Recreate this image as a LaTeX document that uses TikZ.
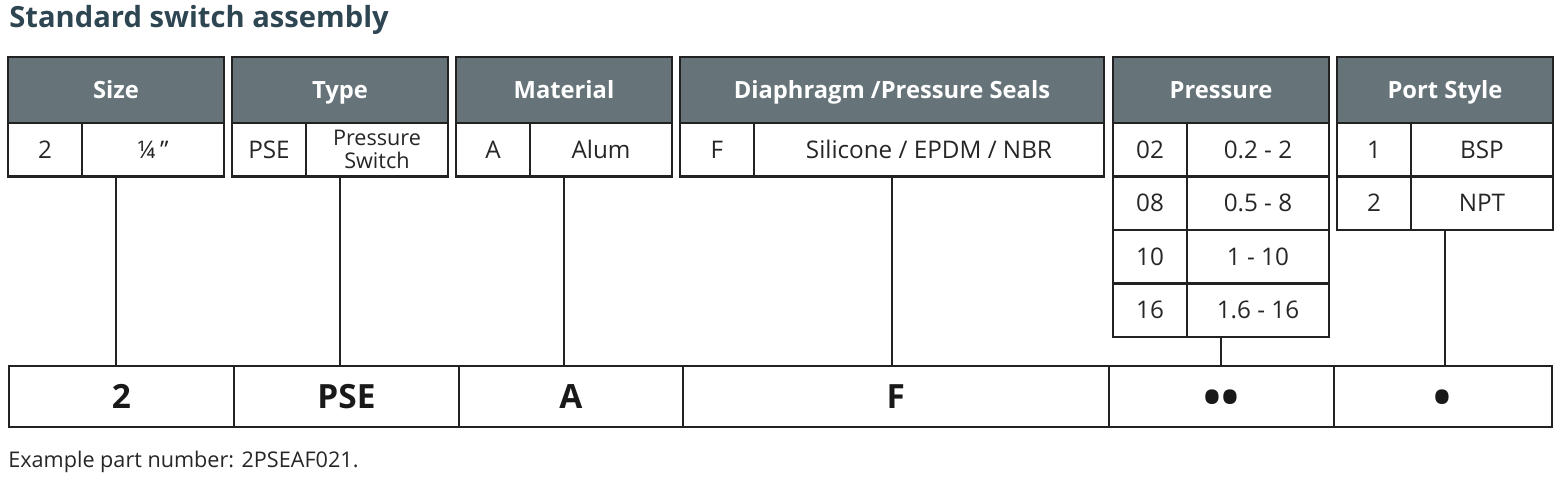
\documentclass[tikz,border=0pt]{standalone}
\usepackage{fontspec}
\setmainfont{Open Sans}
\usetikzlibrary{positioning}
\definecolor{headgray}{HTML}{66747A}
\definecolor{titleblue}{HTML}{2E4552}
\definecolor{rulecol}{HTML}{222222}
\tikzstyle{cell} = [rectangle, draw=rulecol, line width=1.3pt, outer sep=0pt,
    inner sep=0pt, minimum height=1.07cm, text=black!85,
    font=\fontsize{13.8}{16}\selectfont]
\tikzstyle{oneline} = [text height=9.9pt, text depth=0pt]
\tikzstyle{head} = [cell, oneline, fill=headgray, text=white, minimum width=4.32cm,
    minimum height=1.32cm, text height=9.6pt,
    font=\bfseries\fontsize{13.5}{16}\selectfont]
\tikzstyle{code} = [cell, oneline, minimum width=1.48cm]
\tikzstyle{desc} = [cell, oneline, minimum width=2.84cm]
\tikzstyle{part} = [cell, oneline, minimum width=4.5cm, minimum height=1.22cm,
    text height=13.6pt, text=black!90, font=\bfseries\fontsize{19}{22}\selectfont]
\tikzstyle{dots} = [part, text height=20pt, font=\bfseries\fontsize{27}{30}\selectfont]
\tikzstyle{line} = [draw=rulecol, line width=1.3pt]

\begin{document}
\begin{tikzpicture}[x=0.02cm, y=-0.02cm]
        \useasboundingbox (0,0) rectangle (1563,480);
        % Title and note
        \node [anchor=base west, inner sep=0pt, text=titleblue,
            font=\bfseries\fontsize{16.6}{19}\selectfont] (title) at (9,28) {Standard switch assembly};
        \node [anchor=base west, inner sep=0pt, text=black!85,
            font=\fontsize{12.3}{15}\selectfont] (note) at (8,467) {Example part number: 2PSEAF021.};
        % Size
        \node [head, anchor=north west] (size) at (8,57) {Size};
        \node [code, below right=0pt of size.south west] (sz2) {2};
        \node [desc, right=0pt of sz2] (szq) {¼\,"};
        % Type
        \node [head, anchor=north west] (type) at (232,57) {Type};
        \node [code, below right=0pt of type.south west] (tyPSE) {PSE};
        \node [cell, right=0pt of tyPSE, minimum width=2.84cm, align=center,
            font=\fontsize{12.3}{13.2}\selectfont] (typs) {Pressure\\Switch};
        % Material
        \node [head, anchor=north west] (mat) at (456,57) {Material};
        \node [code, below right=0pt of mat.south west] (maA) {A};
        \node [desc, right=0pt of maA] (maal) {Alum};
        % Diaphragm
        \node [head, anchor=north west, minimum width=8.48cm] (dia) at (680,57) {Diaphragm /Pressure Seals};
        \node [code, below right=0pt of dia.south west] (diF) {F};
        \node [desc, right=0pt of diF, minimum width=7.0cm] (disl) {Silicone / EPDM / NBR};
        % Pressure
        \node [head, anchor=north west] (pres) at (1113,57) {Pressure};
        \node [code, below right=0pt of pres.south west] (pr02) {02};
        \node [desc, right=0pt of pr02] (pr02r) {0.2 - 2};
        \node [code, below=0pt of pr02] (pr08) {08};
        \node [desc, right=0pt of pr08] (pr08r) {0.5 - 8};
        \node [code, below=0pt of pr08] (pr10) {10};
        \node [desc, right=0pt of pr10] (pr10r) {1 - 10};
        \node [code, below=0pt of pr10] (pr16) {16};
        \node [desc, right=0pt of pr16] (pr16r) {1.6 - 16};
        % Port style
        \node [head, anchor=north west] (port) at (1337,57) {Port Style};
        \node [code, below right=0pt of port.south west] (po1) {1};
        \node [desc, right=0pt of po1] (po1r) {BSP};
        \node [code, below=0pt of po1] (po2) {2};
        \node [desc, right=0pt of po2] (po2r) {NPT};
        % Part number bar
        \node [part, anchor=north west] (b1) at (9,366) {2};
        \node [part, right=0pt of b1] (b2) {PSE};
        \node [part, right=0pt of b2, minimum width=4.48cm] (b3) {A};
        \node [part, right=0pt of b3, minimum width=8.52cm] (b4) {F};
        \node [dots, right=0pt of b4] (b5) {••};
        \node [dots, right=0pt of b5, minimum width=4.36cm] (b6) {•};
        % Draw edges
        \path [line] (size.center |- sz2.south) -- (size.center |- b1.north);
        \path [line] (type.center |- tyPSE.south) -- (type.center |- b2.north);
        \path [line] (mat.center |- maA.south) -- (mat.center |- b3.north);
        \path [line] (dia.center |- diF.south) -- (dia.center |- b4.north);
        \path [line] (pres.center |- pr16.south) -- (pres.center |- b5.north);
        \path [line] (port.center |- po2.south) -- (port.center |- b6.north);
\end{tikzpicture}
\end{document}
